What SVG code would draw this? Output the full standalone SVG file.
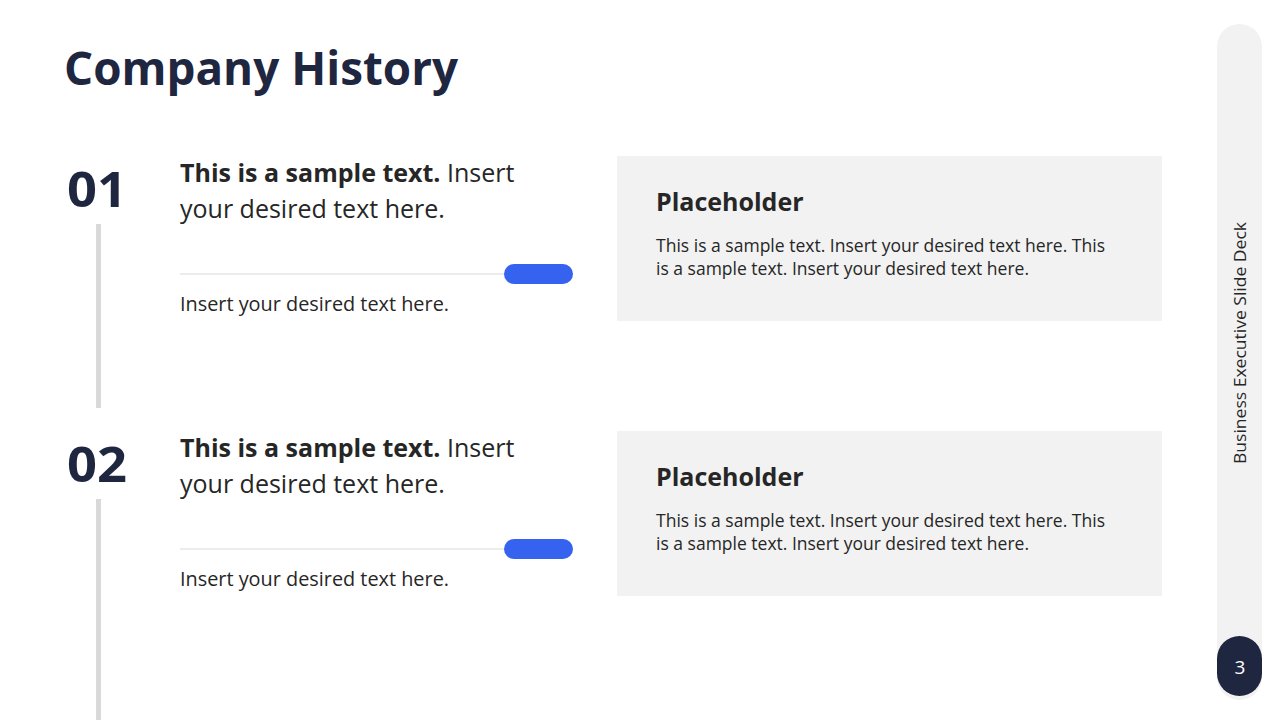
<svg xmlns="http://www.w3.org/2000/svg" width="1280" height="720" viewBox="0 0 1280 720">
<style>
.f{font-family:"Open Sans","Noto Sans","Liberation Sans",sans-serif}
.title{font-size:46px;font-weight:700;fill:#1f2640}
.num{font-size:48px;font-weight:700;fill:#1f2640}
.head{font-size:25px;fill:#262626}
.b{font-weight:700}
.sub{font-size:19.5px;fill:#262626}
.ph{font-size:25px;font-weight:700;fill:#262626}
.body{font-size:17.4px;fill:#262626}
.bar{fill:#d9d9d9}
.box{fill:#f2f2f2}
.pill{fill:#3563f0}
.rule{stroke:#d9d9d9;stroke-width:1.2}
</style>
<rect width="1280" height="720" fill="#ffffff"/>
<text class="f title" x="64" y="85" textLength="394" lengthAdjust="spacingAndGlyphs">Company History</text>
<g id="sidebar">
<rect x="1217" y="24" width="45" height="676" rx="22.5" class="box"/>
<rect x="1217" y="636" width="45" height="60" rx="22.5" fill="#1f2640"/>
<text class="f" x="1240" y="674" font-size="19" fill="#ffffff" text-anchor="middle">3</text>
<text class="f" transform="translate(1246,343) rotate(-90)" font-size="16" fill="#262626" text-anchor="middle" textLength="242" lengthAdjust="spacingAndGlyphs">Business Executive Slide Deck</text>
</g>
<g id="connectors">
<rect x="96" y="224" width="5" height="184" class="bar"/>
<rect x="96" y="499" width="5" height="221" class="bar"/>
</g>
<g id="item1">
<text class="f num" x="67" y="207" textLength="60" lengthAdjust="spacingAndGlyphs">01</text>
<text class="f head" x="180" y="182"><tspan class="b">This is a sample text.</tspan> Insert</text>
<text class="f head" x="180" y="218">your desired text here.</text>
<line x1="180" y1="274" x2="510" y2="274" class="rule"/>
<rect x="504" y="264" width="69" height="20" rx="10" class="pill"/>
<text class="f sub" x="180" y="311" textLength="269" lengthAdjust="spacingAndGlyphs">Insert your desired text here.</text>
</g>
<g id="card1">
<rect x="617" y="156" width="545" height="165" class="box"/>
<text class="f ph" x="656" y="211">Placeholder</text>
<text class="f body" x="656" y="252" textLength="449" lengthAdjust="spacingAndGlyphs">This is a sample text. Insert your desired text here. This</text>
<text class="f body" x="656" y="275" textLength="373" lengthAdjust="spacingAndGlyphs">is a sample text. Insert your desired text here.</text>
</g>
<g id="item2">
<text class="f num" x="67" y="482" textLength="60" lengthAdjust="spacingAndGlyphs">02</text>
<text class="f head" x="180" y="457"><tspan class="b">This is a sample text.</tspan> Insert</text>
<text class="f head" x="180" y="493">your desired text here.</text>
<line x1="180" y1="549" x2="510" y2="549" class="rule"/>
<rect x="504" y="539" width="69" height="20" rx="10" class="pill"/>
<text class="f sub" x="180" y="586" textLength="269" lengthAdjust="spacingAndGlyphs">Insert your desired text here.</text>
</g>
<g id="card2">
<rect x="617" y="431" width="545" height="165" class="box"/>
<text class="f ph" x="656" y="486">Placeholder</text>
<text class="f body" x="656" y="527" textLength="449" lengthAdjust="spacingAndGlyphs">This is a sample text. Insert your desired text here. This</text>
<text class="f body" x="656" y="550" textLength="373" lengthAdjust="spacingAndGlyphs">is a sample text. Insert your desired text here.</text>
</g>
</svg>
